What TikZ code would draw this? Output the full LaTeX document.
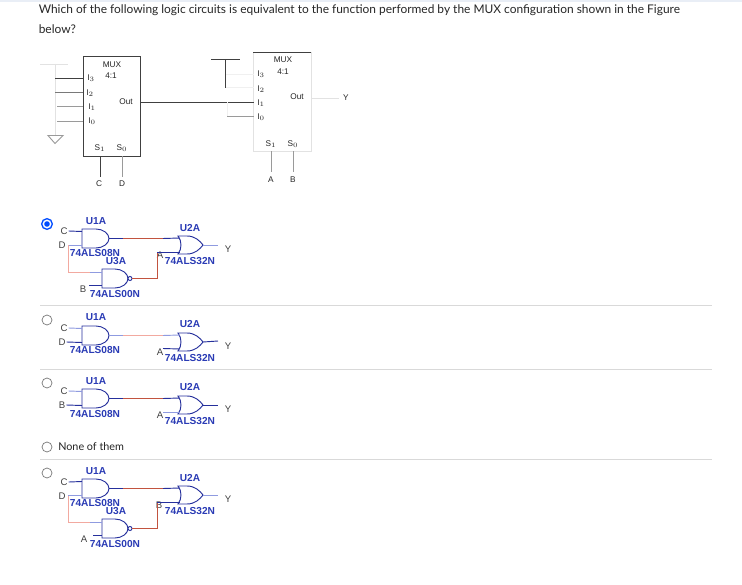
\documentclass[tikz,border=0pt]{standalone}
\usepackage{fontspec}
\setmainfont{Lato}
\newfontfamily\muxfont{Liberation Sans}
\definecolor{wire}{HTML}{26309C}
\definecolor{wirelt}{HTML}{8F9BE0}
\definecolor{redw}{HTML}{C2533F}
\definecolor{pinkw}{HTML}{F2A9A0}
\definecolor{lab}{HTML}{2A3BB5}
\definecolor{muxd}{HTML}{404040}
\definecolor{muxm}{HTML}{9A9A9A}
\definecolor{muxl}{HTML}{E2E2E2}
\definecolor{muxf}{HTML}{F0F0F0}
\definecolor{topband}{HTML}{E9EEF6}
\tikzset{
  x=0.75pt,y=-0.75pt,
  gatelab/.style={font=\muxfont\bfseries\fontsize{7.6}{8}\selectfont,text=lab,inner sep=0},
  pinlab/.style={font=\muxfont\fontsize{7.2}{8}\selectfont,text=black!75,inner sep=0},
  muxtext/.style={font=\muxfont\fontsize{6.2}{7}\selectfont,text=black!85,inner sep=0},
  bodytext/.style={font=\fontsize{8.95}{10}\selectfont,text=black!85,inner sep=0,anchor=west},
  radio/.style={circle,draw=black!55,line width=0.5pt,fill=white,minimum size=7.5pt,inner sep=0},
  radiosel/.style={circle,draw=blue!70!cyan,line width=1pt,fill=white,minimum size=8pt,inner sep=0},
  sep/.style={draw=black!15,line width=0.7pt},
  gateline/.style={draw=wire,line width=0.7pt},
  w/.style={line width=0.7pt},
  andgate/.pic={
    \draw[gateline] (0,-9.5) -- (14,-9.5) .. controls (21,-9.5) and (27,-5) .. (27,0) .. controls (27,5) and (21,9.5) .. (14,9.5) -- (0,9.5) -- cycle;
    \coordinate (-in1) at (0,-7); \coordinate (-in2) at (0,7); \coordinate (-out) at (27,0);
  },
  orgate/.pic={
    \draw[gateline] (0,-9) -- (9,-9) .. controls (17,-9) and (22,-4) .. (25,0) .. controls (22,4) and (17,9) .. (9,9) -- (0,9) .. controls (4,4) and (4,-4) .. (0,-9) -- cycle;
    \coordinate (-in1) at (2,-7); \coordinate (-in2) at (2,7); \coordinate (-out) at (25,0);
  },
  nandgate/.pic={
    \draw[gateline] (0,-9.5) -- (13,-9.5) .. controls (20,-9.5) and (26,-5) .. (26,0) .. controls (26,5) and (20,9.5) .. (13,9.5) -- (0,9.5) -- cycle;
    \draw[gateline,fill=white] (28,0) circle[radius=2];
    \coordinate (-in1) at (0,-6.5); \coordinate (-in2) at (0,6.5); \coordinate (-out) at (30,0);
  },
}
\begin{document}
\begin{tikzpicture}
\useasboundingbox (0,0) rectangle (742,585);
\fill[white] (0,0) rectangle (742,585);
\fill[topband] (0,0) rectangle (742,2);
\node[bodytext] (q1) at (38.5,10.5) {Which of the following logic circuits is equivalent to the function performed by the MUX configuration shown in the Figure};
\node[bodytext] (q2) at (38.5,29) {below?};

% ---------- first MUX
\node[draw=muxd,line width=0.6pt,minimum width=42.75pt,minimum height=75pt,inner sep=0] (m1) at (111.5,106) {};
\node[muxtext] (m1t) at (112,65) {MUX};
\node[muxtext] (m1u) at (111,76) {4:1};
\node[muxtext] (m1i3) at (91,78) {I$_{3}$};
\node[muxtext] (m1i2) at (90,93) {I$_{2}$};
\node[muxtext] (m1i1) at (92,107) {I$_{1}$};
\node[muxtext] (m1i0) at (92,121) {I$_{0}$};
\node[muxtext] (m1o) at (126,102) {Out};
\node[muxtext] (m1s1) at (100,148) {S$_{1}$};
\node[muxtext] (m1s0) at (122,148) {S$_{0}$};
\node[muxtext] (c0) at (99,184) {C};
\node[muxtext] (d0) at (122,184) {D};
\coordinate (gt) at (55,64);
\coordinate (gb) at (55,136);
\draw[muxl,w] (40,64) -- (68,64);
\draw[muxl,w] (gt) -- (gb);
\draw[muxm,w] (48,135.5) -- (63,135.5) -- (55,143.5) -- cycle;
\draw[muxd,w] (55,78) -- (83,78);
\draw[muxd!70,w] (55,92) -- (83,92);
\draw[muxm,w] (57,106) -- (83,106);
\draw[muxm,w] (57,121) -- (83,121);
\draw[muxd,w] (100,156) -- (100,177);
\draw[muxm,w] (122,156) -- (122,177);

% ---------- VCC
\coordinate (vl) at (211,59.5);
\coordinate (vr) at (240,59.5);
\coordinate (vb) at (225.5,88);
\draw[muxd,w] (vl) -- (vr);
\draw[muxd,w] (225.5,59.5) -- (vb);

% ---------- second MUX
\node[draw=muxl,line width=0.6pt,minimum width=43pt,minimum height=74pt,inner sep=0] (m2) at (282.3,102) {};
\draw[muxd,w] (m2.north west) -- (m2.north east);
\node[muxtext] (m2t) at (283,60) {MUX};
\node[muxtext] (m2u) at (283,72) {4:1};
\node[muxtext] (m2i3) at (261,74) {I$_{3}$};
\node[muxtext] (m2i2) at (261,89) {I$_{2}$};
\node[muxtext] (m2i1) at (261,103) {I$_{1}$};
\node[muxtext] (m2i0) at (261,117) {I$_{0}$};
\node[muxtext] (m2o) at (297,97) {Out};
\node[muxtext] (m2s1) at (271,144) {S$_{1}$};
\node[muxtext] (m2s0) at (293,144) {S$_{0}$};
\node[muxtext] (a0) at (271,180) {A};
\node[muxtext] (b0) at (293,180) {B};
\node[muxtext] (y0) at (346,98) {Y};
\draw[muxd,w] (140,102) -- (253.5,102);
\draw[muxf,w] (226,74) -- (253.5,74);
\draw[muxf,w] (226,87) -- (253.5,87);
\draw[muxf,w] (227,102) -- (227,116);
\draw[muxm,w] (227,116) -- (253.5,116);
\draw[muxl,w] (311,98) -- (339,98);
\draw[muxm,w] (271,151) -- (271,172);
\draw[muxm,w] (293,151) -- (293,172);

% ---------- radio buttons
\node[radiosel] (r1) at (47,224) {};
\node[circle,fill=blue!70!cyan,minimum size=4.2pt,inner sep=0] (r1d) at (47,224) {};
\node[radio] (r2) at (47,320) {};
\node[radio] (r3) at (47,383) {};
\node[radio] (r4) at (47,447) {};
\node[radio] (r5) at (47,473) {};
\node[bodytext,font=\fontsize{8.1}{10}\selectfont] (none) at (58,447) {None of them};
\draw[sep] (40,305) -- (712,305);
\draw[sep] (40,369) -- (712,369);
\draw[sep] (40,459.5) -- (712,459.5);

% ---------- circuit 1
\pic (a1) at (82,238.5) {andgate};
\pic (o1) at (178,245) {orgate};
\pic (n1) at (102,278.5) {nandgate};
\node[pinlab] (c1) at (64,231) {C};
\node[pinlab] (d1) at (62,245) {D};
\node[pinlab] (a1l) at (160,255) {A};
\node[pinlab] (b1) at (83,289) {B};
\node[pinlab] (y1) at (228,249) {Y};
\node[gatelab] (u1a1) at (96,221) {U1A};
\node[gatelab] (u2a1) at (190,228) {U2A};
\node[gatelab] (u3a1) at (116,261) {U3A};
\node[gatelab] (p1a) at (95,253) {74ALS08N};
\node[gatelab] (p1o) at (190,261) {74ALS32N};
\node[gatelab] (p1n) at (115,294) {74ALS00N};
\draw[wire,w] (c1.east) ++(1,0) -- (a1-in1);
\draw[wirelt,w] (68,245) -- (82,245);
\draw[pinkw,w] (68,245) -- (68,272) -- (90,272);
\draw[wirelt,w] (90,272) -- (n1-in1);
\draw[wire,w] (89,285) -- (n1-in2);
\draw[wire,w] (a1-out) -- (123,238.5);
\draw[redw,w] (123,238.5) -- (163,238.5);
\draw[wire,w] (163,238.5) -- (o1-in1);
\draw[redw,w] (n1-out) -- (157,278.5) -- (157,252);
\draw[wire,w] (157,252) -- (o1-in2);
\draw[wirelt,w] (o1-out) -- (218,245);

% ---------- circuit 2
\pic (a2) at (82,335.5) {andgate};
\pic (o2) at (178,342) {orgate};
\node[pinlab] (c2) at (64,328) {C};
\node[pinlab] (d2) at (62,342) {D};
\node[pinlab] (a2l) at (160,352) {A};
\node[pinlab] (y2) at (228,346) {Y};
\node[gatelab] (u1a2) at (96,317) {U1A};
\node[gatelab] (u2a2) at (190,324) {U2A};
\node[gatelab] (p2a) at (95,350) {74ALS08N};
\node[gatelab] (p2o) at (190,358) {74ALS32N};
\draw[wirelt,w] (c2.east) ++(1,0) -- (a2-in1);
\draw[wire,w] (d2.east) ++(1,0) -- (a2-in2);
\draw[wirelt,w] (a2-out) -- (123,335.5);
\draw[pinkw,w] (123,335.5) -- (163,335.5);
\draw[wirelt,w] (163,335.5) -- (o2-in1);
\draw[wire,w] (163,348.5) -- (o2-in2);
\draw[wire,w] (o2-out) -- (218,341);

% ---------- circuit 3
\pic (a3) at (82,398.5) {andgate};
\pic (o3) at (178,405) {orgate};
\node[pinlab] (c3) at (64,391) {C};
\node[pinlab] (b3) at (62,405) {B};
\node[pinlab] (a3l) at (160,415) {A};
\node[pinlab] (y3) at (228,409) {Y};
\node[gatelab] (u1a3) at (96,381) {U1A};
\node[gatelab] (u2a3) at (190,387) {U2A};
\node[gatelab] (p3a) at (95,414) {74ALS08N};
\node[gatelab] (p3o) at (190,421) {74ALS32N};
\draw[wirelt,w] (c3.east) ++(1,0) -- (a3-in1);
\draw[wire,w] (b3.east) ++(1,0) -- (a3-in2);
\draw[wire,w] (a3-out) -- (123,398.5);
\draw[redw,w] (123,398.5) -- (163,398.5);
\draw[wire,w] (163,398.5) -- (o3-in1);
\draw[wirelt,w] (163,412) -- (o3-in2);
\draw[wire,w] (o3-out) -- (218,405);

% ---------- circuit 4
\pic (a4) at (82,488.5) {andgate};
\pic (o4) at (178,495) {orgate};
\pic (n4) at (102,528.5) {nandgate};
\node[pinlab] (c4) at (64,482) {C};
\node[pinlab] (d4) at (62,496) {D};
\node[pinlab] (b4) at (159,505) {B};
\node[pinlab] (a4l) at (84,539) {A};
\node[pinlab] (y4) at (228,499) {Y};
\node[gatelab] (u1a4) at (96,471) {U1A};
\node[gatelab] (u2a4) at (190,478) {U2A};
\node[gatelab] (u3a4) at (116,511) {U3A};
\node[gatelab] (p4a) at (95,503) {74ALS08N};
\node[gatelab] (p4o) at (190,511) {74ALS32N};
\node[gatelab] (p4n) at (115,544) {74ALS00N};
\draw[wire,w] (c4.east) ++(1,0) -- (a4-in1);
\draw[wirelt,w] (68,495.5) -- (a4-in2);
\draw[pinkw,w] (68,495.5) -- (68,522) -- (90,522);
\draw[wirelt,w] (90,522) -- (n4-in1);
\draw[wire,w] (93,535) -- (n4-in2);
\draw[wire,w] (a4-out) -- (123,488.5);
\draw[redw,w] (123,488.5) -- (163,488.5);
\draw[wire,w] (163,488.5) -- (o4-in1);
\draw[redw,w] (n4-out) -- (157,528.5) -- (157,502);
\draw[wire,w] (157,502) -- (o4-in2);
\draw[wirelt,w] (o4-out) -- (218,495);
\end{tikzpicture}
\end{document}
